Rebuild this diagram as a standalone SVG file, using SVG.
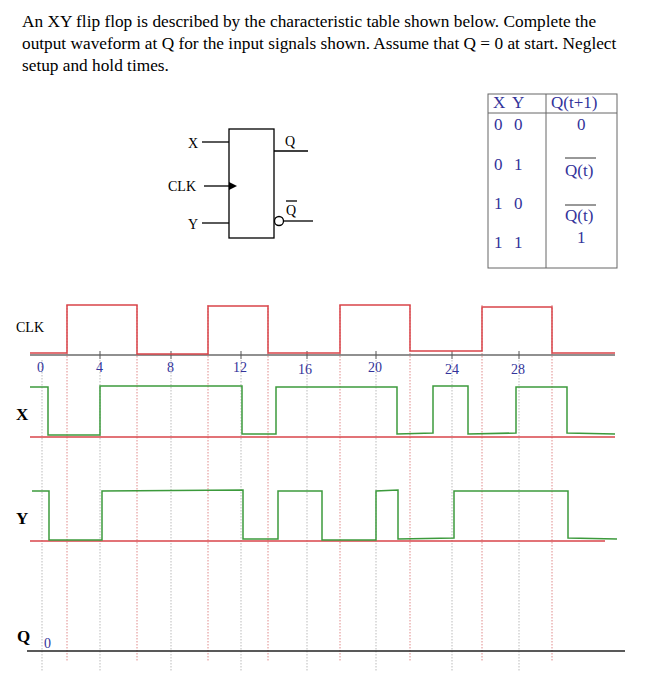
<svg xmlns="http://www.w3.org/2000/svg" width="662" height="700" viewBox="0 0 662 700">
<style>
text{font-family:"Liberation Serif",serif;fill:#000}
.h{font-size:17.3px}
.b{fill:#33339a;font-size:14px}
.tb{fill:#33339a;font-size:17px}
.lbl{font-size:14px}
.bold{font-size:17px;font-weight:bold}
.r{fill:none;stroke:#d9444a;stroke-width:1.5}
.g{fill:none;stroke:#3c9a3c;stroke-width:1.5}
.k{stroke:#000;stroke-width:1.3;fill:none}
.dot{stroke:#e08a8a;stroke-width:1;stroke-dasharray:1.5 1.5}
.gd{stroke:#bbb;stroke-width:1;stroke-dasharray:1.5 1.5}
.t{stroke:#555;stroke-width:1}
</style>
<rect width="662" height="700" fill="#fff"/>
<text class="h" x="22" y="27">An XY flip flop is described by the characteristic table shown below. Complete the</text>
<text class="h" x="22" y="49">output waveform at Q for the input signals shown. Assume that Q = 0 at start. Neglect</text>
<text class="h" x="22" y="71">setup and hold times.</text>
<g id="flipflop">
<rect class="k" x="229" y="129" width="45" height="109"/>
<line class="k" x1="202" y1="142" x2="229" y2="142"/>
<line class="k" x1="204" y1="186" x2="229" y2="186"/>
<polygon points="229,182 237,186 229,190" fill="#000"/>
<line class="k" x1="202" y1="223" x2="229" y2="223"/>
<line class="k" x1="274" y1="151" x2="308" y2="151"/>
<circle class="k" cx="279" cy="221" r="4.5"/>
<line class="k" x1="284" y1="221" x2="313" y2="221"/>
<text class="lbl" x="188" y="148">X</text>
<text class="lbl" x="168" y="191">CLK</text>
<text class="lbl" x="188" y="229">Y</text>
<text class="lbl" x="285" y="146">Q</text>
<text class="lbl" x="286" y="215">Q</text>
<line class="k" x1="286" y1="201" x2="297" y2="201" stroke-width="1"/>
</g>
<g id="table">
<rect x="488" y="94" width="129" height="174" fill="none" stroke="#666" stroke-width="1"/>
<line x1="546" y1="94" x2="546" y2="268" stroke="#666"/>
<line x1="488" y1="113" x2="617" y2="113" stroke="#666"/>
<text class="tb" x="493" y="108">X</text><text class="tb" x="512" y="108">Y</text>
<text class="tb" x="551" y="108">Q(t+1)</text>
<text class="tb" x="494" y="130">0</text><text class="tb" x="514" y="130">0</text>
<text class="tb" x="577" y="130">0</text>
<text class="tb" x="494" y="170">0</text><text class="tb" x="514" y="170">1</text>
<text class="tb" x="565" y="176">Q(t)</text>
<line x1="565" y1="158" x2="596" y2="158" stroke="#333"/>
<text class="tb" x="494" y="209">1</text><text class="tb" x="514" y="209">0</text>
<text class="tb" x="565" y="221">Q(t)</text>
<line x1="565" y1="205" x2="596" y2="205" stroke="#333"/>
<text class="tb" x="494" y="248">1</text><text class="tb" x="514" y="248">1</text>
<text class="tb" x="577" y="243">1</text>
</g>
<g id="grid">
<line class="gd" x1="42" y1="360" x2="42" y2="672"/>
<line class="gd" x1="100" y1="360" x2="100" y2="672"/>
<line class="gd" x1="171" y1="360" x2="171" y2="672"/>
<line class="gd" x1="241" y1="360" x2="241" y2="672"/>
<line class="gd" x1="307" y1="360" x2="307" y2="672"/>
<line class="gd" x1="376" y1="360" x2="376" y2="672"/>
<line class="gd" x1="452" y1="360" x2="452" y2="672"/>
<line class="gd" x1="519" y1="360" x2="519" y2="672"/>
<line class="dot" x1="67" y1="305" x2="67" y2="662"/>
<line class="dot" x1="137" y1="305" x2="137" y2="662"/>
<line class="dot" x1="208" y1="305" x2="208" y2="662"/>
<line class="dot" x1="268" y1="305" x2="268" y2="662"/>
<line class="dot" x1="340" y1="305" x2="340" y2="662"/>
<line class="dot" x1="410" y1="305" x2="410" y2="662"/>
<line class="dot" x1="482" y1="305" x2="482" y2="662"/>
<line class="dot" x1="552" y1="305" x2="552" y2="662"/>
</g>
<g id="clk">
<text class="lbl" x="16" y="332">CLK</text>
<line x1="30" y1="355" x2="615" y2="355" stroke="#222" stroke-width="1.2"/>
<g class="t">
<line x1="100" y1="351" x2="100" y2="359"/><line x1="171" y1="351" x2="171" y2="359"/><line x1="241" y1="351" x2="241" y2="359"/><line x1="307" y1="351" x2="307" y2="359"/><line x1="376" y1="351" x2="376" y2="359"/><line x1="452" y1="351" x2="452" y2="359"/><line x1="519" y1="351" x2="519" y2="359"/>
</g>
<text class="b" x="37" y="372">0</text>
<text class="b" x="96" y="372">4</text>
<text class="b" x="167" y="372">8</text>
<text class="b" x="233" y="372">12</text>
<text class="b" x="298" y="374">16</text>
<text class="b" x="368" y="372">20</text>
<text class="b" x="445" y="374">24</text>
<text class="b" x="511" y="374">28</text>
<polyline class="r" points="30,353 67,353 67,305 137,305 137,354 208,354 208,306 268,306 268,353 340,353 340,305 410,305 410,351 482,351 482,307 552,307 552,353 615,353"/>
</g>
<g id="x">
<text class="bold" x="16" y="420">X</text>
<line class="r" x1="30" y1="437" x2="615" y2="437"/>
<polyline class="g" points="30,387 48,387 48,435 100,435 100,386 242,386 242,434 276,434 276,387 397,387 397,434 433,433 433,386 468,386 468,434 516,433 516,387 567,387 567,433 615,434"/>
</g>
<g id="y">
<text class="bold" x="16" y="524">Y</text>
<line class="r" x1="30" y1="541" x2="605" y2="541"/>
<polyline class="g" points="32,491 49,491 49,540 102,540 102,491 243,490 243,539 278,539 278,491 322,491 322,540 376,540 376,491 398,490 398,539 454,538 454,491 568,491 568,538 617,539"/>
</g>
<g id="q">
<text class="bold" x="17" y="642">Q</text>
<text class="b" x="44" y="648">0</text>
<line x1="27" y1="651" x2="625" y2="651" stroke="#222" stroke-width="1.3"/>
</g>
</svg>
